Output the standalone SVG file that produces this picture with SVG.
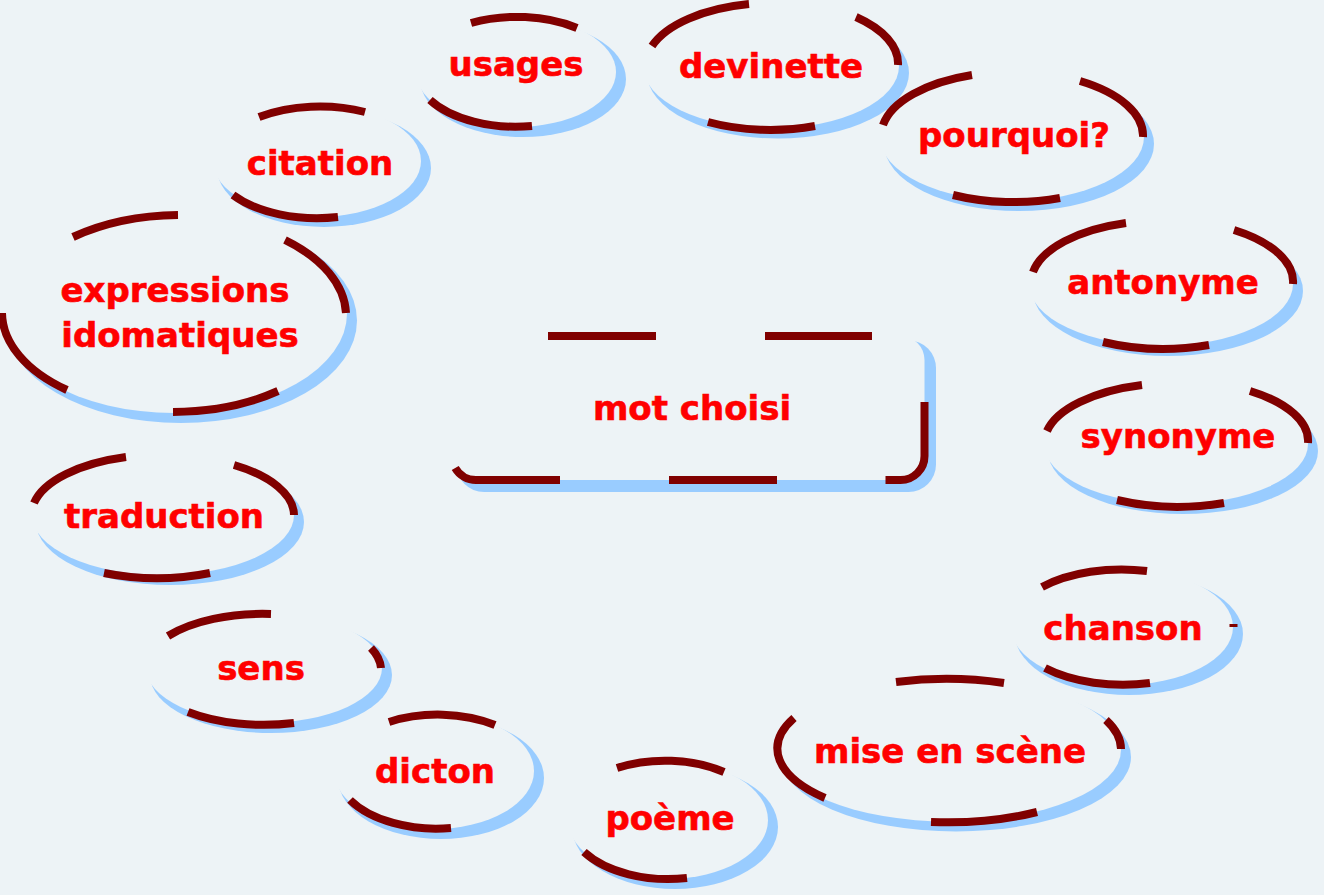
<svg xmlns="http://www.w3.org/2000/svg" width="1324" height="895" viewBox="0 0 1324 895">
<style>
.bg{fill:#EDF3F6}
.sh{fill:#99CCFF}
.mw{fill:#FFFFFF}
.mb{fill:#000000}
.ds{fill:none;stroke:#800000;stroke-width:8;stroke-linecap:butt}
.lb{font-family:"DejaVu Sans",Verdana,sans-serif;font-weight:bold;font-size:34px;fill:#FF0000;stroke:#FF0000;stroke-width:0.6;text-anchor:middle}
</style>
<defs>
<mask id="m-mot" maskUnits="userSpaceOnUse" x="0" y="0" width="1324" height="895"><rect class="mw" width="1324" height="895"/><rect class="mb" x="452" y="336" width="472.5" height="144" rx="24" ry="24"/></mask>
<mask id="m-usages" maskUnits="userSpaceOnUse" x="0" y="0" width="1324" height="895"><rect class="mw" width="1324" height="895"/><ellipse class="mb" cx="516" cy="72" rx="100" ry="55"/></mask>
<mask id="m-devinette" maskUnits="userSpaceOnUse" x="0" y="0" width="1324" height="895"><rect class="mw" width="1324" height="895"/><ellipse class="mb" cx="771" cy="66" rx="128" ry="62.5"/></mask>
<mask id="m-pourquoi" maskUnits="userSpaceOnUse" x="0" y="0" width="1324" height="895"><rect class="mw" width="1324" height="895"/><ellipse class="mb" cx="1012" cy="137" rx="132" ry="64"/></mask>
<mask id="m-citation" maskUnits="userSpaceOnUse" x="0" y="0" width="1324" height="895"><rect class="mw" width="1324" height="895"/><ellipse class="mb" cx="317" cy="161" rx="104" ry="56"/></mask>
<mask id="m-expressions" maskUnits="userSpaceOnUse" x="0" y="0" width="1324" height="895"><rect class="mw" width="1324" height="895"/><ellipse class="mb" cx="174" cy="313.5" rx="173" ry="99.5"/></mask>
<mask id="m-antonyme" maskUnits="userSpaceOnUse" x="0" y="0" width="1324" height="895"><rect class="mw" width="1324" height="895"/><ellipse class="mb" cx="1161" cy="284" rx="132" ry="62"/></mask>
<mask id="m-synonyme" maskUnits="userSpaceOnUse" x="0" y="0" width="1324" height="895"><rect class="mw" width="1324" height="895"/><ellipse class="mb" cx="1176" cy="444" rx="132" ry="60"/></mask>
<mask id="m-traduction" maskUnits="userSpaceOnUse" x="0" y="0" width="1324" height="895"><rect class="mw" width="1324" height="895"/><ellipse class="mb" cx="163" cy="515" rx="131" ry="60"/></mask>
<mask id="m-sens" maskUnits="userSpaceOnUse" x="0" y="0" width="1324" height="895"><rect class="mw" width="1324" height="895"/><ellipse class="mb" cx="264" cy="668" rx="118" ry="55"/></mask>
<mask id="m-dicton" maskUnits="userSpaceOnUse" x="0" y="0" width="1324" height="895"><rect class="mw" width="1324" height="895"/><ellipse class="mb" cx="434" cy="771" rx="100" ry="58"/></mask>
<mask id="m-poeme" maskUnits="userSpaceOnUse" x="0" y="0" width="1324" height="895"><rect class="mw" width="1324" height="895"/><ellipse class="mb" cx="668" cy="820" rx="100" ry="59"/></mask>
<mask id="m-mise" maskUnits="userSpaceOnUse" x="0" y="0" width="1324" height="895"><rect class="mw" width="1324" height="895"/><ellipse class="mb" cx="949" cy="750" rx="172" ry="71.5"/></mask>
<mask id="m-chanson" maskUnits="userSpaceOnUse" x="0" y="0" width="1324" height="895"><rect class="mw" width="1324" height="895"/><ellipse class="mb" cx="1122" cy="627" rx="111" ry="58"/></mask>
</defs>
<rect class="bg" x="0" y="0" width="1324" height="895"/>
<g id="connectors"/>

<g id="node-mot-choisi">
<rect class="sh" x="456.5" y="340.5" width="479.5" height="151.5" rx="27.5" ry="27.5" mask="url(#m-mot)"/>
<path class="ds" d="M548,336 H656 M765,336 H872"/>
<path class="ds" d="M924.5,402 V456 A24 24 0 0 1 900.5,480 H885.5"/>
<path class="ds" d="M777,480 H669"/>
<path class="ds" d="M560,480 H476 A24 24 0 0 1 455.2,468"/>
<text class="lb" x="692" y="420">mot choisi</text>
</g>

<g id="node-usages">
<ellipse class="sh" cx="523" cy="79" rx="103" ry="58" mask="url(#m-usages)"/>
<path class="ds" d="M471,23 A100 55 0 0 1 577,28 M532,126 A100 55 0 0 1 430,100"/>
<text class="lb" x="516" y="76">usages</text>
</g>

<g id="node-devinette">
<ellipse class="sh" cx="778" cy="73" rx="131" ry="65.5" mask="url(#m-devinette)"/>
<path class="ds" d="M652,46 A128 62.5 0 0 1 749,4 M856,17 A128 62.5 0 0 1 898,65 M815,126 A128 62.5 0 0 1 708,122"/>
<text class="lb" x="771" y="78">devinette</text>
</g>

<g id="node-pourquoi">
<ellipse class="sh" cx="1019" cy="144" rx="135" ry="67" mask="url(#m-pourquoi)"/>
<path class="ds" d="M883,125 A132 64 0 0 1 972,75 M1080,81 A132 64 0 0 1 1143,137 M1060,198 A132 64 0 0 1 953,195"/>
<text class="lb" x="1014" y="147">pourquoi?</text>
</g>

<g id="node-citation">
<ellipse class="sh" cx="324" cy="168" rx="107" ry="59" mask="url(#m-citation)"/>
<path class="ds" d="M259,117 A104 56 0 0 1 365,112 M338,217 A104 56 0 0 1 233,195"/>
<text class="lb" x="320" y="175">citation</text>
</g>

<g id="node-expressions">
<ellipse class="sh" cx="181" cy="320.5" rx="176" ry="102.5" mask="url(#m-expressions)"/>
<path class="ds" d="M73,237 A173 99.5 0 0 1 178,215 M285,240 A173 99.5 0 0 1 346,313 M278,391 A173 99.5 0 0 1 173,412 M67,390 A173 99.5 0 0 1 2,313"/>
<text class="lb" x="175" y="302">expressions</text>
<text class="lb" x="180" y="347">idomatiques</text>
</g>

<g id="node-antonyme">
<ellipse class="sh" cx="1168" cy="291" rx="135" ry="65" mask="url(#m-antonyme)"/>
<path class="ds" d="M1033,272 A132 62 0 0 1 1126,223 M1234,230 A132 62 0 0 1 1293,284 M1209,345 A132 62 0 0 1 1103,342"/>
<text class="lb" x="1163" y="294">antonyme</text>
</g>

<g id="node-synonyme">
<ellipse class="sh" cx="1183" cy="451" rx="135" ry="63" mask="url(#m-synonyme)"/>
<path class="ds" d="M1047,431 A132 60 0 0 1 1142,385 M1250,391 A132 60 0 0 1 1308,443 M1224,503 A132 60 0 0 1 1117,500"/>
<text class="lb" x="1178" y="448">synonyme</text>
</g>

<g id="node-traduction">
<ellipse class="sh" cx="170" cy="522" rx="134" ry="63" mask="url(#m-traduction)"/>
<path class="ds" d="M34,503 A131 60 0 0 1 126,457 M234,465 A131 60 0 0 1 294,515 M210,573 A131 60 0 0 1 104,573"/>
<text class="lb" x="164" y="528">traduction</text>
</g>

<g id="node-sens">
<ellipse class="sh" cx="271" cy="675" rx="121" ry="58" mask="url(#m-sens)"/>
<path class="ds" d="M168,636 A118 55 0 0 1 271,614 M371,648 A118 55 0 0 1 381,668 M294,723 A118 55 0 0 1 188,712"/>
<text class="lb" x="261" y="680">sens</text>
</g>

<g id="node-dicton">
<ellipse class="sh" cx="441" cy="778" rx="103" ry="61" mask="url(#m-dicton)"/>
<path class="ds" d="M389,722 A100 58 0 0 1 495,725 M451,828 A100 58 0 0 1 350,800"/>
<text class="lb" x="435" y="783">dicton</text>
</g>

<g id="node-poeme">
<ellipse class="sh" cx="675" cy="827" rx="103" ry="62" mask="url(#m-poeme)"/>
<path class="ds" d="M617,768 A100 59 0 0 1 724,772 M687,878 A100 59 0 0 1 584,852"/>
<text class="lb" x="670" y="830">poème</text>
</g>

<g id="node-mise-en-scene">
<ellipse class="sh" cx="956" cy="757" rx="175" ry="74.5" mask="url(#m-mise)"/>
<path class="ds" d="M896,682 A172 71.5 0 0 1 1004,683 M1106,720 A172 71.5 0 0 1 1121,749 M1037,812 A172 71.5 0 0 1 931,822 M825,798 A172 71.5 0 0 1 794,718"/>
<text class="lb" x="950" y="763">mise en scène</text>
</g>

<g id="node-chanson">
<ellipse class="sh" cx="1129" cy="634" rx="114" ry="61" mask="url(#m-chanson)"/>
<path class="ds" d="M1042,587 A111 58 0 0 1 1147,571 M1233.5,624 L1233.5,627 M1150,683 A111 58 0 0 1 1045,668"/>
<text class="lb" x="1123" y="640">chanson</text>
</g>
</svg>
